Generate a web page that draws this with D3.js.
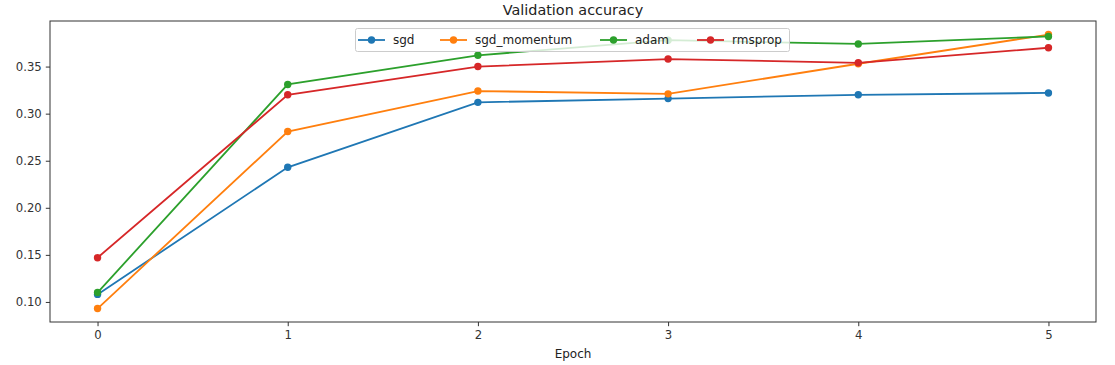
<!DOCTYPE html>
<html>
<head>
<meta charset="utf-8">
<script src="https://cdn.jsdelivr.net/npm/d3@7"></script>
<style>
  body { margin: 0; background: #fff; }
  text { font-family: "DejaVu Sans", sans-serif; }
</style>
</head>
<body>
<svg id="svg1"></svg>
<script>

// chart data
var epochs = [0, 1, 2, 3, 4, 5];
var seriesNames = ["sgd", "sgd_momentum", "adam", "rmsprop"];
var sgd = [0.108, 0.243, 0.312, 0.316, 0.320, 0.322];
var sgdMomentum = [0.093, 0.281, 0.324, 0.321, 0.353, 0.384];
var adam = [0.110, 0.331, 0.362, 0.378, 0.374, 0.382];
var rmsprop = [0.147, 0.320, 0.350, 0.358, 0.354, 0.370];
var yTicks = [0.10, 0.15, 0.20, 0.25, 0.30, 0.35];
var colors = ["#1f77b4", "#ff7f0e", "#2ca02c", "#d62728"];

var allSeries = [sgd, sgdMomentum, adam, rmsprop];

var W = 1115, H = 365;
var margin = {top: 21, right: 19, bottom: 43, left: 50};
var width = W - margin.left - margin.right;
var height = H - margin.top - margin.bottom;

var svg = d3.select("#svg1")
    .attr("width", W)
    .attr("height", H)
  .append("g")
    .attr("transform", "translate(" + margin.left + "," + margin.top + ")");

var x = d3.scaleLinear()
    .domain([-0.25, 5.25])
    .range([0, width]);

var y = d3.scaleLinear()
    .domain([0.0787, 0.3984])
    .range([height, 0]);

// X axis
var xAxis = svg.append("g")
    .attr("transform", "translate(0," + height + ")")
    .call(d3.axisBottom(x).tickValues(epochs).tickFormat(d3.format("d")).tickSize(4.2).tickPadding(4));

// Y axis
var yAxis = svg.append("g")
    .call(d3.axisLeft(y).tickValues(yTicks).tickFormat(d3.format(".2f")).tickSize(4.2).tickPadding(4));

[xAxis, yAxis].forEach(function (a) {
  a.select(".domain").remove();
  a.selectAll(".tick line").attr("stroke", "#333").attr("stroke-width", 1);
  a.selectAll(".tick text").attr("fill", "#333").style("font-size", "11.7px");
});

// lines and markers
var line = d3.line()
    .x(function (d, i) { return x(epochs[i]); })
    .y(function (d) { return y(d); });

allSeries.forEach(function (s, k) {
  svg.append("path")
    .datum(s)
    .attr("fill", "none")
    .attr("stroke", colors[k])
    .attr("stroke-width", 1.8)
    .attr("d", line);
  svg.append("g")
    .selectAll("circle")
    .data(s)
    .enter()
    .append("circle")
      .attr("cx", function (d, i) { return x(epochs[i]); })
      .attr("cy", function (d) { return y(d); })
      .attr("r", 3.7)
      .style("fill", colors[k]);
});

// frame
svg.append("rect")
    .attr("width", width)
    .attr("height", height)
    .attr("fill", "none")
    .attr("stroke", "#333")
    .attr("stroke-width", 1);

// title + x label
svg.append("text")
    .attr("x", width / 2)
    .attr("y", -6)
    .attr("text-anchor", "middle")
    .style("font-size", "14.4px")
    .attr("fill", "#222")
    .text("Validation accuracy");

svg.append("text")
    .attr("x", width / 2)
    .attr("y", height + 36)
    .attr("text-anchor", "middle")
    .style("font-size", "12px")
    .attr("fill", "#222")
    .text("Epoch");

// legend
var legendX = [358, 440, 600, 697];
var leg = svg.append("g").attr("transform", "translate(" + (-margin.left) + "," + (-margin.top) + ")");
leg.append("rect")
    .attr("x", 355.5)
    .attr("y", 28.5)
    .attr("width", 434)
    .attr("height", 23)
    .attr("rx", 2)
    .attr("fill", "white")
    .attr("fill-opacity", 0.8)
    .attr("stroke", "#ccc")
    .attr("stroke-width", 1);

seriesNames.forEach(function (name, k) {
  var lx = legendX[k];
  leg.append("line")
      .attr("x1", lx).attr("x2", lx + 27)
      .attr("y1", 40).attr("y2", 40)
      .attr("stroke", colors[k])
      .attr("stroke-width", 1.8);
  leg.append("circle")
      .attr("cx", lx + 13.5)
      .attr("cy", 40)
      .attr("r", 3.7)
      .style("fill", colors[k]);
  leg.append("text")
      .attr("x", lx + 35)
      .attr("y", 44.3)
      .style("font-size", "12px")
      .attr("fill", "#222")
      .text(name);
});

</script>
</body>
</html>
